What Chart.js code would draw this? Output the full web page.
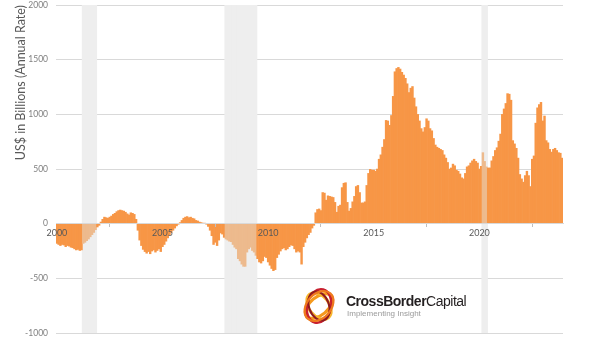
<!DOCTYPE html>
<html><head><meta charset="utf-8">
<script src="https://cdn.jsdelivr.net/npm/chart.js@4.4.1/dist/chart.umd.min.js"></script>
<style>
html,body{margin:0;padding:0;background:#fff;}
#wrap{position:relative;width:602px;height:355px;overflow:hidden;}
#logo-name{position:absolute;left:346px;top:293px;font-family:'Liberation Sans',Arial,sans-serif;font-size:14px;line-height:16px;color:#231f20;letter-spacing:-0.5px;white-space:nowrap;}
#logo-name b{font-weight:bold;}
#logo-tag{position:absolute;left:347px;top:309px;font-family:'Liberation Sans',Arial,sans-serif;font-size:8px;line-height:10px;color:#9a9a9a;white-space:nowrap;}
</style></head><body>
<div id="wrap"><canvas id="c" width="602" height="355"></canvas>
<div id="logo-name"><b>CrossBorder</b>Capital</div>
<div id="logo-tag">Implementing Insight</div></div>
<script>
// Monthly flows, US$ bn (annual rate), Jan..Dec of each year
const f2000 = [-180,-190,-200,-190,-195,-210,-200,-205,-215,-220,-230,-240];
const f2001 = [-235,-245,-240,-180,-170,-155,-140,-120,-100,-80,-55,-30];
const f2002 = [-15,15,40,60,55,50,60,70,85,95,110,120];
const f2003 = [125,120,115,105,90,80,100,95,85,40,-60,-150];
const f2004 = [-200,-235,-255,-270,-255,-275,-250,-240,-260,-245,-230,-255];
const f2005 = [-210,-190,-160,-130,-100,-80,-60,-40,-20,-5,10,30];
const f2006 = [50,60,65,55,60,50,45,30,25,15,10,5];
const f2007 = [5,-5,-25,-60,-110,-190,-170,-200,-150,-85,-95,-125];
const f2008 = [-140,-150,-160,-165,-190,-215,-230,-320,-340,-370,-390,-390];
const f2009 = [-260,-230,-215,-245,-260,-290,-320,-350,-360,-340,-300,-310];
const f2010 = [-350,-380,-410,-430,-420,-310,-280,-250,-230,-220,-240,-230];
const f2011 = [-210,-195,-200,-230,-260,-250,-260,-370,-210,-170,-130,-100];
const f2012 = [-80,-40,-15,100,130,135,120,285,280,215,255,250];
const f2013 = [245,240,195,105,160,170,330,370,375,195,115,140];
const f2014 = [200,250,340,350,285,190,190,200,350,460,497,490];
const f2015 = [490,480,500,590,630,700,770,945,940,900,990,1165];
const f2016 = [1390,1420,1430,1415,1385,1360,1330,1280,1200,1240,1255,1150];
const f2017 = [1070,1000,940,870,840,880,960,940,870,850,780,720];
const f2018 = [700,690,680,670,630,600,560,500,510,545,530,490];
const f2019 = [480,455,420,410,460,520,530,555,575,590,570,555];
const f2020 = [500,525,650,570,520,510,510,575,615,670,695,755];
const f2021 = [820,1000,1050,1100,1190,1185,1130,760,730,690,600,450];
const f2022 = [410,380,440,480,440,340,590,620,920,1060,1090,1110];
const f2023 = [940,985,760,740,680,655,680,690,670,650,645,600];

const years = [2000,2001,2002,2003,2004,2005,2006,2007,2008,2009,2010,2011,2012,2013,2014,2015,2016,2017,2018,2019,2020,2021,2022,2023];
const yearTicks = ['2000','2005','2010','2015','2020'];
const recessions = [['2001-04','2001-11'],['2008-01','2009-06'],['2020-03','2020-05']];
const yTicks = [-1000,-500,0,500,1000,1500,2000];

const flows = [].concat(f2000,f2001,f2002,f2003,f2004,f2005,f2006,f2007,f2008,f2009,f2010,f2011,
  f2012,f2013,f2014,f2015,f2016,f2017,f2018,f2019,f2020,f2021,f2022,f2023);
const labels = [];
years.forEach(y => { for (let m = 1; m <= 12; m++) labels.push(y + '-' + String(m).padStart(2,'0')); });
const yMin = yTicks[0], yMax = yTicks[yTicks.length-1];
const inRecession = labels.map(l => recessions.some(([a,b]) => l >= a && l <= b));
const shade = inRecession.map(r => r ? [yMin, yMax] : null);
const barColors = inRecession.map(r => r ? '#EDBA8D' : '#F79646');

const logoPlugin = {
  id: 'logo',
  afterDraw(chart) {
    const ctx = chart.ctx;
    ctx.save();
    ctx.translate(319, 306);
    const rings = [
      {rx:16, ry:9,  rot:-0.7, w:3.2, c:'#F59A1E'},
      {rx:15, ry:10, rot:0.9,  w:3.0, c:'#F7B52C'},
      {rx:12, ry:17, rot:0.25, w:2.6, c:'#C8202F'},
      {rx:10, ry:15, rot:-0.35,w:2.0, c:'#8E1B20'},
      {rx:17, ry:12, rot:2.3,  w:2.2, c:'#EE7A1E'}
    ];
    rings.forEach(r => {
      ctx.beginPath();
      ctx.ellipse(0, 0, r.rx, r.ry, r.rot, 0, Math.PI * 2);
      ctx.strokeStyle = r.c; ctx.lineWidth = r.w; ctx.stroke();
    });
    ctx.restore();
  }
};

new Chart(document.getElementById('c'), {
  type: 'bar',
  data: {
    labels: labels,
    datasets: [
      {label: 'Flows', data: flows, backgroundColor: barColors, borderWidth: 0,
       barPercentage: 1, categoryPercentage: 1, grouped: false, order: 0},
      {label: 'Recession', data: shade, backgroundColor: '#EEEEEE', borderWidth: 0,
       barPercentage: 1, categoryPercentage: 1, grouped: false, order: 1, inflateAmount: 0.6}
    ]
  },
  options: {
    responsive: false,
    animation: false,
    events: [],
    layout: {padding: {top: 0, right: 39, bottom: 22, left: 0}},
    plugins: {legend: {display: false}, tooltip: {enabled: false}},
    scales: {
      x: {
        type: 'category',
        position: {y: 0},
        offset: true,
        grid: {display: true, drawOnChartArea: false, drawTicks: true, tickLength: 3, color: '#bfbfbf', offset: true, z: 1},
        border: {display: true, color: '#d9d9d9', z: 1},
        ticks: {
          z: 2, autoSkip: false, maxRotation: 0, minRotation: 0, padding: 1,
          color: '#595959', font: {family: 'Lato', size: 9},
          callback: function(v, i) {
            const l = labels[i];
            if (l.endsWith('-01') && yearTicks.includes(l.slice(0,4))) return l.slice(0,4);
            return null;
          }
        }
      },
      y: {
        min: yMin, max: yMax,
        afterBuildTicks: s => { s.ticks = yTicks.map(v => ({value: v})); },
        ticks: {color: '#7f7f7f', font: {family: 'Lato', size: 8.5}, padding: 0, callback: v => String(v)},
        grid: {color: '#d9d9d9', drawTicks: true, tickLength: 8, tickColor: 'rgba(0,0,0,0)'},
        border: {display: false},
        title: {display: true, text: 'US$ in Billions (Annual Rate)', align: 'end', color: '#595959',
                font: {family: 'Lato', size: 12.5}, padding: {top: 13, bottom: 0}},
        afterFit: s => { s.width = 56; }
      }
    }
  },
  plugins: [logoPlugin]
});
</script>
</body></html>
